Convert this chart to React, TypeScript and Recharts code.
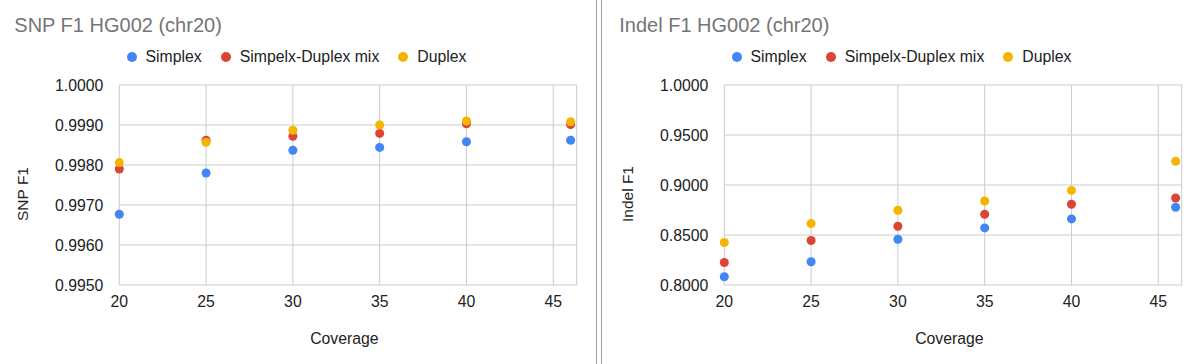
import React from 'react';
import { ScatterChart, Scatter, XAxis, YAxis, CartesianGrid, ZAxis, Legend } from 'recharts';

const coverage = [20, 25, 30, 35, 40, 46];
const xTicks = [20, 25, 30, 35, 40, 45];
const seriesNames = ['Simplex', 'Simpelx-Duplex mix', 'Duplex'];
const seriesColors = ['#4285F4', '#DB4437', '#F4B400'];

const snpSimplex = [0.99677, 0.9978, 0.99837, 0.99844, 0.99858, 0.99862];
const snpMix = [0.9979, 0.99862, 0.99872, 0.99879, 0.99903, 0.99901];
const snpDuplex = [0.99806, 0.99857, 0.99887, 0.999, 0.9991, 0.99908];
const snpTicks = [0.995, 0.996, 0.997, 0.998, 0.999, 1.0];

const indelSimplex = [0.8083, 0.8232, 0.8458, 0.8571, 0.8661, 0.8778];
const indelMix = [0.8225, 0.8445, 0.8588, 0.8707, 0.8807, 0.887];
const indelDuplex = [0.8425, 0.8614, 0.8747, 0.884, 0.8946, 0.9238];
const indelTicks = [0.8, 0.85, 0.9, 0.95, 1.0];

const FONT = '"Liberation Sans", Arial, Helvetica, sans-serif';

const toPoints = (vals: number[]) => coverage.map((x, i) => ({ x, y: vals[i] }));

const renderLegend = (props: any) => {
  const payload = [...(props.payload || [])].sort(
    (a: any, b: any) => seriesNames.indexOf(a.value) - seriesNames.indexOf(b.value)
  );
  return (
    <div
      style={{
        display: 'flex',
        justifyContent: 'center',
        alignItems: 'center',
        height: 20,
        paddingRight: 3,
        fontFamily: FONT,
        fontSize: 15.8,
        color: '#222222',
        whiteSpace: 'nowrap',
      }}
    >
      {payload.map((p: any, i: number) => (
        <div
          key={i}
          style={{ display: 'flex', alignItems: 'center', marginRight: i < payload.length - 1 ? 19 : 0 }}
        >
          <span
            style={{
              width: 10,
              height: 10,
              borderRadius: '50%',
              background: p.color,
              marginRight: 9,
              display: 'inline-block',
            }}
          />
          <span style={{ lineHeight: '20px' }}>{p.value}</span>
        </div>
      ))}
    </div>
  );
};

type PanelProps = {
  left: number;
  title: string;
  yLabel: string;
  series: number[][];
  yTicks: number[];
};

function Panel({ left, title, yLabel, series, yTicks }: PanelProps) {
  return (
    <div style={{ position: 'absolute', left, top: 0, width: 596, height: 364 }}>
      <ScatterChart width={596} height={364} margin={{ top: 85, right: 19.3, bottom: 0, left: 0 }}>
        <CartesianGrid stroke="#cccccc" />
        <XAxis
          type="number"
          dataKey="x"
          domain={[20, 46.35]}
          ticks={xTicks}
          interval={0}
          axisLine={false}
          tickLine={false}
          tickSize={0}
          tickMargin={11}
          height={79}
          tick={{ fill: '#222222', fontSize: 15.8, fontFamily: FONT }}
        />
        <YAxis
          type="number"
          dataKey="y"
          domain={[yTicks[0], yTicks[yTicks.length - 1]]}
          ticks={yTicks}
          interval={0}
          width={119.3}
          axisLine={false}
          tickLine={false}
          tickSize={0}
          tickMargin={16}
          tickFormatter={(v: number) => v.toFixed(4)}
          tick={{ fill: '#222222', fontSize: 15.8, fontFamily: FONT }}
        />
        <ZAxis range={[56, 56]} />
        <Legend
          layout="horizontal"
          verticalAlign="middle"
          align="center"
          wrapperStyle={{ top: 47, left: 0, width: 596, height: 20 }}
          content={renderLegend}
        />
        {series.map((vals, i) => (
          <Scatter
            key={seriesNames[i]}
            name={seriesNames[i]}
            data={toPoints(vals)}
            fill={seriesColors[i]}
            isAnimationActive={false}
          />
        ))}
      </ScatterChart>
      <div
        style={{
          position: 'absolute',
          left: 14.3,
          top: 15.4,
          fontSize: 20,
          lineHeight: '20px',
          color: '#757575',
          fontFamily: FONT,
          whiteSpace: 'nowrap',
        }}
      >
        {title}
      </div>
      <div
        style={{
          position: 'absolute',
          left: 344.4 - 100,
          top: 331.3,
          width: 200,
          textAlign: 'center',
          fontSize: 15.8,
          lineHeight: '15.8px',
          color: '#222222',
          fontFamily: FONT,
          whiteSpace: 'nowrap',
        }}
      >
        Coverage
      </div>
      <div
        style={{
          position: 'absolute',
          left: 23 - 60,
          top: 194 - 8,
          width: 120,
          height: 16,
          textAlign: 'center',
          fontSize: 15.5,
          lineHeight: '16px',
          color: '#222222',
          fontFamily: FONT,
          whiteSpace: 'nowrap',
          transform: 'rotate(-90deg)',
          transformOrigin: '50% 50%',
        }}
      >
        {yLabel}
      </div>
    </div>
  );
}

export default function App() {
  return (
    <div
      style={{
        position: 'absolute',
        left: 0,
        top: 0,
        width: 1200,
        height: 364,
        background: '#ffffff',
        overflow: 'hidden',
      }}
    >
      <Panel
        left={0}
        title="SNP F1 HG002 (chr20)"
        yLabel="SNP F1"
        series={[snpSimplex, snpMix, snpDuplex]}
        yTicks={snpTicks}
      />
      <Panel
        left={605}
        title="Indel F1 HG002 (chr20)"
        yLabel="Indel F1"
        series={[indelSimplex, indelMix, indelDuplex]}
        yTicks={indelTicks}
      />
      <div style={{ position: 'absolute', left: 596, top: 0, width: 1, height: 364, background: '#a0a0a0' }} />
      <div style={{ position: 'absolute', left: 601, top: 0, width: 1, height: 364, background: '#a0a0a0' }} />
    </div>
  );
}
